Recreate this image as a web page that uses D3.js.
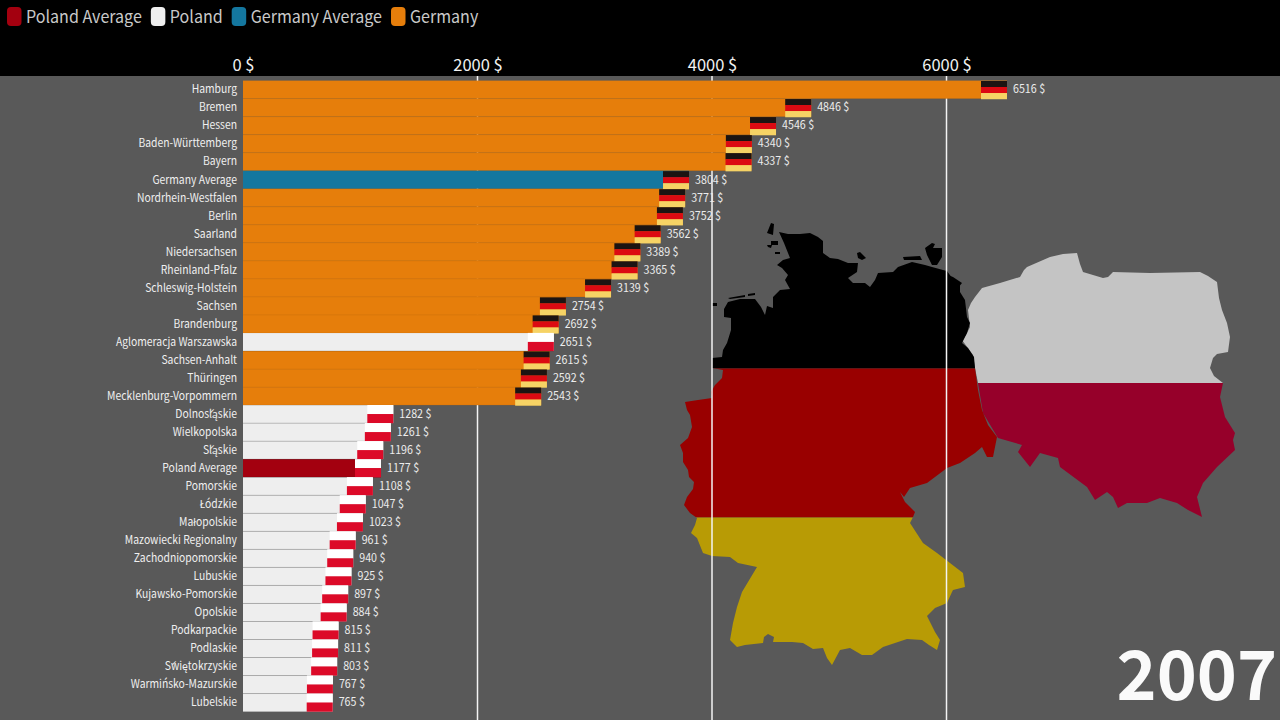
<!DOCTYPE html>
<html>
<head>
<meta charset="utf-8">
<script src="https://cdn.jsdelivr.net/npm/d3@7"></script>
<style>
  html, body { margin: 0; padding: 0; background: #595959; }
  svg { display: block; }
  text { font-family: "Noto Sans CJK SC", "Noto Sans", sans-serif; }
</style>
</head>
<body>
<svg id="chart" width="1280" height="720"></svg>
<script>
// GDP per capita by region, 2007
const regions = ["Hamburg","Bremen","Hessen","Baden-Württemberg","Bayern","Germany Average","Nordrhein-Westfalen","Berlin","Saarland","Niedersachsen","Rheinland-Pfalz","Schleswig-Holstein","Sachsen","Brandenburg","Aglomeracja Warszawska","Sachsen-Anhalt","Thüringen","Mecklenburg-Vorpommern","Dolnośląskie","Wielkopolska","Śląskie","Poland Average","Pomorskie","Łódzkie","Małopolskie","Mazowiecki Regionalny","Zachodniopomorskie","Lubuskie","Kujawsko-Pomorskie","Opolskie","Podkarpackie","Podlaskie","Świętokrzyskie","Warmińsko-Mazurskie","Lubelskie"];
const values = [6516,4846,4546,4340,4337,3804,3771,3752,3562,3389,3365,3139,2754,2692,2651,2615,2592,2543,1282,1261,1196,1177,1108,1047,1023,961,940,925,897,884,815,811,803,767,765];
const groups = ["Germany","Germany","Germany","Germany","Germany","Germany Average","Germany","Germany","Germany","Germany","Germany","Germany","Germany","Germany","Poland","Germany","Germany","Germany","Poland","Poland","Poland","Poland Average","Poland","Poland","Poland","Poland","Poland","Poland","Poland","Poland","Poland","Poland","Poland","Poland","Poland"];
const flagCountry = regions.map((_, i) => i < 18 && regions[i] !== "Aglomeracja Warszawska" ? "DE" : "PL");
const legendNames = ["Poland Average","Poland","Germany Average","Germany"];
const legendColors = ["#a3000f","#eeeeee","#14779f","#e67e0b"];
const axisTicks = [0,2000,4000,6000];
const yearLabel = "2007";

// Country outlines, traced as [x, y] in map units
const germanyOutline = [[712,368],[712,358],[722,357],[723,350],[727,343],[731,330],[731,318],[724,317],[724,309],[728,302],[740,299],[755,299],[761,307],[765,315],[767,306],[773,308],[773,297],[780,290],[790,289],[785,280],[788,275],[782,268],[777,265],[783,260],[790,258],[788,253],[784,243],[779,232],[788,234],[800,234],[810,233],[818,237],[823,241],[823,253],[830,258],[838,259],[848,263],[858,263],[857,272],[848,278],[853,283],[865,283],[870,287],[875,280],[878,273],[893,272],[898,267],[912,262],[925,265],[932,267],[943,270],[947,271],[952,278],[960,283],[960,292],[965,300],[967,317],[970,323],[967,333],[962,343],[968,348],[974,357],[975,368],[978,390],[982,410],[988,425],[997,437],[993,457],[987,457],[982,447],[975,453],[960,463],[947,468],[927,483],[910,488],[904,497],[900,492],[905,502],[915,512],[913,517],[910,523],[923,543],[937,553],[950,563],[963,573],[965,587],[953,590],[952,592],[947,603],[935,608],[927,616],[935,632],[940,640],[937,650],[929,645],[922,640],[907,639],[883,647],[872,655],[862,655],[850,648],[840,650],[832,665],[827,658],[823,648],[813,649],[803,643],[792,642],[783,642],[773,642],[774,637],[768,634],[764,637],[763,643],[745,645],[737,647],[730,640],[733,623],[737,607],[742,592],[757,567],[738,563],[730,557],[712,556],[703,553],[697,538],[691,533],[695,525],[697,518],[690,513],[684,505],[687,497],[693,489],[694,482],[689,477],[688,470],[683,462],[683,453],[680,445],[688,438],[692,427],[690,415],[687,410],[685,402],[698,400],[712,398],[711,392],[715,385],[722,378],[723,370]];
const germanyIslands = [
  [[767,233],[771,223],[774,224],[773,235]],
  [[771,241],[778,241],[778,245],[771,245]],
  [[767,245],[772,245],[771,248],[768,247]],
  [[775,252],[780,252],[780,254],[775,254]],
  [[857,253],[860,252],[866,258],[862,260],[858,258]],
  [[903,257],[920,256],[922,260],[904,260]],
  [[925,248],[932,243],[935,244],[933,248],[942,248],[942,257],[937,265],[932,265],[927,255]],
  [[943,273],[953,277],[962,283],[958,288],[953,285],[948,280]],
  [[728,298],[745,295],[745,297],[730,299]],
  [[748,294],[755,293],[755,295],[748,296]],
  [[712,303],[717,303],[717,306],[712,306]]
];
const polandOutline = [[978,383],[975,368],[973,355],[962,340],[966,335],[970,327],[968,310],[971,303],[975,297],[982,288],[1000,283],[1020,277],[1024,270],[1027,267],[1050,257],[1063,254],[1077,253],[1080,264],[1083,272],[1103,278],[1108,277],[1113,272],[1150,273],[1200,272],[1208,276],[1217,282],[1219,298],[1222,310],[1227,323],[1230,337],[1228,352],[1217,354],[1213,358],[1210,368],[1214,376],[1223,383],[1220,397],[1225,417],[1235,433],[1233,440],[1235,450],[1217,467],[1203,483],[1197,497],[1202,517],[1188,510],[1177,503],[1160,498],[1147,503],[1127,503],[1118,508],[1113,497],[1107,492],[1095,500],[1087,487],[1060,467],[1058,458],[1040,453],[1030,467],[1018,452],[1022,445],[998,438],[983,413]];

const germanyBands = [
  { color: "#000000", from: 200, to: 368.5 },
  { color: "#990000", from: 368.5, to: 517.5 },
  { color: "#b89b05", from: 517.5, to: 680 }
];
const polandBands = [
  { color: "#c4c4c4", from: 240, to: 383 },
  { color: "#96002a", from: 383, to: 530 }
];
const germanFlag = ["#1c1412","#dc0a12","#f6d365"];
const polishFlag = ["#ffffff","#dc0a28"];

const svg = d3.select("#chart");
const W = 1280, H = 720, headerH = 76;

const x = d3.scaleLinear().domain([0, 6000]).range([243, 946.5]);
const y = d3.scaleBand().domain(regions).range([80, 711]);
const color = d3.scaleOrdinal().domain(legendNames).range(legendColors);
const flagW = 26;

// Narrows a text selection horizontally while keeping its height
function squeeze(sel, factor) {
  sel.each(function () {
    this.setAttribute("textLength", this.getComputedTextLength() * factor);
    this.setAttribute("lengthAdjust", "spacingAndGlyphs");
  });
}

svg.append("rect").attr("width", W).attr("height", H).attr("fill", "#595959");
svg.append("rect").attr("width", W).attr("height", headerH).attr("fill", "#000");

// Maps: each outline is painted once per flag stripe, clipped to the stripe
const defs = svg.append("defs");
const mapLine = d3.line();
function drawFlagMap(id, bands, shapes) {
  const g = svg.append("g");
  bands.forEach((b, i) => {
    defs.append("clipPath").attr("id", `${id}-${i}`)
      .append("rect").attr("x", 600).attr("width", 680)
      .attr("y", b.from).attr("height", b.to - b.from);
    g.append("g").attr("clip-path", `url(#${id}-${i})`)
      .selectAll("path").data(shapes).join("path")
      .attr("d", s => mapLine(s) + "Z")
      .attr("fill", b.color);
  });
}
drawFlagMap("pl", polandBands, [polandOutline]);
drawFlagMap("de", germanyBands, [germanyOutline, ...germanyIslands]);

// Top axis with gridlines running the full height of the plot
const axis = svg.append("g")
  .attr("transform", `translate(0,${headerH})`)
  .call(d3.axisTop(x).tickValues(axisTicks).tickFormat(d => `${d} $`).tickSizeOuter(0).tickSizeInner(0).tickPadding(0));
axis.select(".domain").remove();
axis.selectAll("text")
  .attr("y", -5).attr("dy", 0)
  .attr("fill", "#f2f2f2").attr("font-size", 17)
  .attr("font-family", '"Noto Sans CJK SC", sans-serif')
  .call(squeeze, 0.97);
svg.append("g").selectAll("line").data(axisTicks.slice(1)).join("line")
  .attr("x1", d => x(d)).attr("x2", d => x(d))
  .attr("y1", headerH).attr("y2", H)
  .attr("stroke", "#f4f4f4").attr("stroke-width", 1.5);

// Bars, touching each other, with a faint rule under every row
const rows = regions.map((name, i) => ({ name, value: values[i], group: groups[i], flag: flagCountry[i] }));
svg.append("g").selectAll("rect").data(rows).join("rect")
  .attr("x", x(0))
  .attr("y", d => y(d.name) + 0.6)
  .attr("width", d => x(d.value) - x(0))
  .attr("height", y.bandwidth())
  .attr("fill", d => color(d.group));
svg.append("g").selectAll("line").data(rows.slice(0, -1)).join("line")
  .attr("x1", x(0))
  .attr("x2", d => x(d.value))
  .attr("y1", d => y(d.name) + y.bandwidth() + 0.6)
  .attr("y2", d => y(d.name) + y.bandwidth() + 0.6)
  .attr("stroke", d => d.flag === "DE" ? "rgba(120,60,0,0.1)" : "rgba(0,0,0,0.2)")
  .attr("stroke-width", 0.8);

// Flag at the end of every bar
const flags = svg.append("g").selectAll("g").data(rows).join("g")
  .attr("transform", d => `translate(${x(d.value) - flagW},${y(d.name) + (d.flag === "DE" ? 1 : 0.5)})`);
flags.each(function (d) {
  const stripes = d.flag === "DE" ? germanFlag : polishFlag;
  const h = y.bandwidth() / stripes.length;
  d3.select(this).selectAll("rect").data(stripes).join("rect")
    .attr("y", (c, i) => i * h)
    .attr("width", flagW)
    .attr("height", h + 0.2)
    .attr("fill", c => c);
});

// Region names and value labels
svg.append("g").selectAll("text").data(rows).join("text")
  .attr("x", x(0) - 6)
  .attr("y", d => y(d.name) + y.bandwidth() / 2)
  .attr("dy", "0.38em")
  .attr("text-anchor", "end")
  .attr("font-size", 11.5)
  .attr("fill", "#f0f0f0")
  .text(d => d.name)
  .call(squeeze, 0.9);
svg.append("g").selectAll("text").data(rows).join("text")
  .attr("x", d => x(d.value) + 6)
  .attr("y", d => y(d.name) + y.bandwidth() / 2)
  .attr("dy", "0.38em")
  .attr("font-size", 11.5)
  .attr("fill", "#ececec")
  .text(d => `${d.value} $`)
  .call(squeeze, 0.93);

// Legend, laid out left to right from measured text widths
let cursor = 7;
const legend = svg.append("g");
legendNames.forEach(name => {
  legend.append("rect").attr("x", cursor).attr("y", 7).attr("width", 14.5).attr("height", 19).attr("rx", 4)
    .attr("fill", color(name));
  const t = legend.append("text").attr("x", cursor + 19).attr("y", 23)
    .attr("font-size", 17).attr("fill", "#c9c9c9").text(name);
  const len = t.node().getComputedTextLength() * 0.945;
  t.call(squeeze, 0.945);
  cursor += 19 + len + 9;
});

// Year
svg.append("text").attr("x", 1277).attr("y", 700).attr("text-anchor", "end")
  .attr("font-size", 68).attr("font-weight", 700).attr("fill", "#fafafa").text(yearLabel);
</script>
</body>
</html>
